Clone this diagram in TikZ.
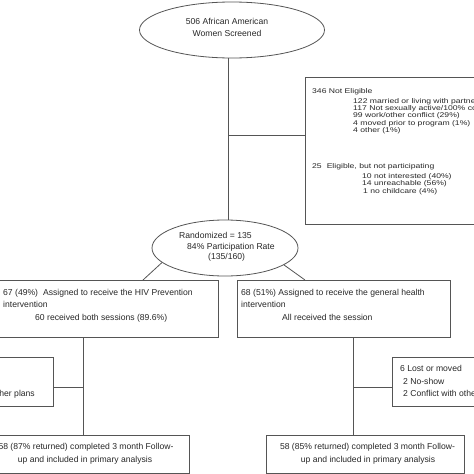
\documentclass[tikz,border=0pt]{standalone}
\usepackage{fontspec}
\setmainfont{Liberation Sans}
\usetikzlibrary{shapes.geometric}
\definecolor{linec}{RGB}{85,85,85}
\definecolor{textc}{RGB}{40,40,40}
\newcommand{\squash}[1]{\scalebox{1}[0.8]{#1}}
\tikzset{
  ln/.style={draw=linec, line width=0.8pt},
  box/.style={draw=linec, line width=0.8pt, rectangle, inner sep=0pt, anchor=north west},
  oval/.style={draw=linec, line width=0.8pt, ellipse, inner sep=0pt},
  txt/.style={inner sep=0pt, anchor=base west, text=textc, font=\fontsize{8.6}{10}\selectfont},
  ctxt/.style={txt, anchor=base},
  etxt/.style={txt, anchor=base east},
}
\begin{document}
\begin{tikzpicture}[x=1pt, y=-1pt]
\useasboundingbox (0,0) rectangle (474,474);
\clip (0,0) rectangle (474,474);
\fill[white] (0,0) rectangle (474,474);

% shapes
\node[oval, minimum width=185pt, minimum height=56pt] (e1) at (232,30) {};
\node[oval, minimum width=146pt, minimum height=56pt] (rand) at (225,248) {};
\node[box, minimum width=200pt, minimum height=147pt] (ne) at (305,77) {};
\node[box, minimum width=228pt, minimum height=57pt] (lbox) at (-10,280) {};
\node[box, minimum width=213pt, minimum height=57pt] (rbox) at (237,280) {};
\node[box, minimum width=73pt, minimum height=49pt] (slb) at (-20,357) {};
\node[box, minimum width=128pt, minimum height=49pt] (srb) at (392,357) {};
\node[box, minimum width=209pt, minimum height=38pt] (blb) at (-20,435) {};
\node[box, minimum width=198pt, minimum height=38pt] (brb) at (266,435) {};

% helper coordinates
\coordinate (v) at (228,0);
\coordinate (j1) at (228,135);
\coordinate (lt) at (143,280);
\coordinate (rt) at (305,280);
\coordinate (lx) at (83,0);
\coordinate (rx) at (353,0);
\coordinate (ly) at (0,387);

% connectors
\draw[ln] (e1.south -| v) -- (rand.north -| v);
\draw[ln] (j1) -- (ne.west |- j1);
\draw[ln] (rand.193) -- (lt);
\draw[ln] (rand.344) -- (rt);
\draw[ln] (lbox.south -| lx) -- (blb.north -| lx);
\draw[ln] (slb.east |- ly) -- (lx |- ly);
\draw[ln] (rbox.south -| rx) -- (brb.north -| rx);
\draw[ln] (rx |- ly) -- (srb.west |- ly);

% texts: top ellipse
\node[ctxt] (t1a) at (227,24) {506 African American};
\node[ctxt] (t1b) at (227,36) {Women Screened};

% not eligible box
\node[txt] (n1) at (312,93.5) {\squash{346 Not Eligible}};
\node[txt] (n2) at (353,103.3) {\squash{122 married or living with partne}};
\node[txt] (n3) at (353,110.5) {\squash{117 Not sexually active/100\% co}};
\node[txt] (n4) at (353,117.8) {\squash{99 work/other conflict (29\%)}};
\node[txt] (n5) at (353,125.2) {\squash{4 moved prior to program (1\%)}};
\node[txt] (n6) at (353,132.4) {\squash{4 other (1\%)}};
\node[txt] (n7) at (312,168.5) {\squash{25\hspace{5pt}Eligible, but not participating}};
\node[txt] (n8) at (362,178) {\squash{10 not interested (40\%)}};
\node[txt] (n9) at (362,185.3) {\squash{14 unreachable (56\%)}};
\node[txt] (n10) at (363,193) {\squash{1 no childcare (4\%)}};

% randomized ellipse
\node[txt] (r1) at (179,238.5) {Randomized = 135};
\node[txt] (r2) at (187,249) {84\% Participation Rate};
\node[txt] (r3) at (208,259) {(135/160)};

% middle boxes
\node[txt] (a1) at (3,295) {67 (49\%)\hspace{5pt}Assigned to receive the HIV Prevention};
\node[txt] (a2) at (3,307) {intervention};
\node[txt] (a3) at (35,320) {60 received both sessions (89.6\%)};
\node[txt] (b1) at (241,295) {68 (51\%) Assigned to receive the general health};
\node[txt] (b2) at (241,307) {intervention};
\node[txt] (b3) at (282,320) {All received the session};

% small boxes
\node[etxt] (s1) at (35,396.3) {her plans};
\node[txt] (s2) at (400,371.3) {6 Lost or moved};
\node[txt] (s3) at (403,384) {2 No-show};
\node[txt] (s4) at (403,396.3) {2 Conflict with othe};

% bottom boxes
\node[ctxt] (c1) at (86,449) {58 (87\% returned) completed 3 month Follow-};
\node[ctxt] (c2) at (85,462) {up and included in primary analysis};
\node[ctxt] (d1) at (367.5,449) {58 (85\% returned) completed 3 month Follow-};
\node[ctxt] (d2) at (368,462) {up and included in primary analysis};
\end{tikzpicture}
\end{document}
